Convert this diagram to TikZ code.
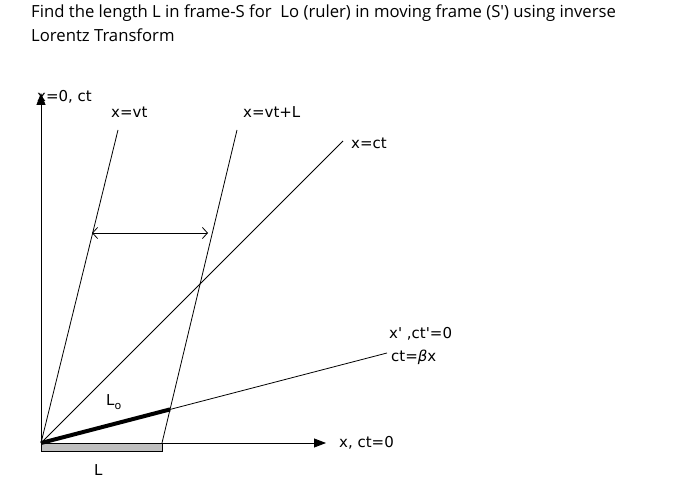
\documentclass[tikz,border=0pt]{standalone}
\usepackage{fontspec}
\setmainfont{DejaVu Sans}
\newfontfamily\headfont{Open Sans}
\usetikzlibrary{arrows.meta}

\begin{document}
\begin{tikzpicture}[x=1pt,y=-1pt,
    lbl/.style={anchor=west,inner sep=0pt,font=\fontsize{15}{18}\selectfont},
    head/.style={anchor=base west,inner sep=0pt,font=\headfont\fontsize{16.7}{24}\selectfont},
    axis/.style={line width=0.8pt,-{Triangle[length=12pt,width=9pt]}},
    wl/.style={line width=0.8pt}]
    \useasboundingbox (0,0) rectangle (673,500);

    \node [head] (title1) at (31,18) {Find the length L in frame-S for\ \ Lo (ruler) in moving frame (S\textquotesingle) using inverse};
    \node [head] (title2) at (31,42) {Lorentz Transform};

    \node (0) at (41, 443) {};
	\node (1) at (41, 93) {};
	\node (2) at (326, 443) {};
	\node (3) at (118, 130) {};
	\node (4) at (162, 443) {};
	\node (5) at (237, 130) {};
	\node (6) at (343, 141) {};
	\node (7) at (387, 353) {};
	\node (8) at (170.05, 409.4) {};
	\node (9) at (162, 451) {};
	\node (10) at (92, 233) {};
	\node (11) at (208, 233) {};
	% ruler in S
	\draw [wl,fill=gray!50] (0.center) rectangle (9.center);
	% edges
	\draw [axis] (0.center) to (1.center);
	\draw [axis] (0.center) to (2.center);
	\draw [wl] (0.center) to (3.center);
	\draw [wl] (4.center) to (5.center);
	\draw [wl] (0.center) to (6.center);
	\draw [wl] (0.center) to (7.center);
	\draw [line width=4pt] (0.center) to (8.center);
	\draw [wl,{Straight Barb[length=5pt,width=11pt]}-{Straight Barb[length=5pt,width=11pt]}] (10.center) to (11.center);
	% labels
	\node [lbl] (20) at (37, 97) {x=0, ct};
	\node [lbl] (21) at (111, 112) {x=vt};
	\node [lbl] (22) at (243, 112) {x=vt+L};
	\node [lbl] (23) at (351, 143) {x=ct};
	\node [lbl] (24) at (389, 334) {x\textquotesingle\ ,ct\textquotesingle=0};
	\node [lbl] (25) at (391, 357) {ct=\textit{β}x};
	\node [lbl] (26) at (339, 443) {x, ct=0};
	\node [lbl] (27) at (106, 402) {L\raisebox{-0.5ex}{\fontsize{11}{11}\selectfont o}};
	\node [lbl] (28) at (94, 470) {L};
\end{tikzpicture}
\end{document}
